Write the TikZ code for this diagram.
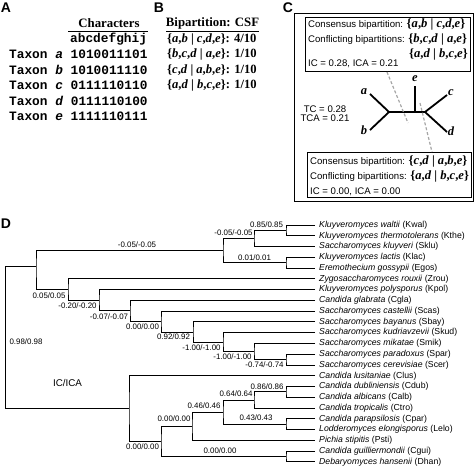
\documentclass[tikz,border=0pt]{standalone}
\usepackage{fontspec}
\setmainfont{Liberation Serif}
\setsansfont{Liberation Sans}
\setmonofont{Liberation Mono}
\usetikzlibrary{calc}
\newcommand{\bip}[2]{\{#1 | #2\}}
\newcommand{\ii}[1]{\textit{#1}}
\newcommand{\cbrf}{\fontsize{12.6}{14}\selectfont\rmfamily\bfseries}
\begin{document}
\begin{tikzpicture}[x=1pt,y=-1pt,
  panel/.style={font=\fontsize{14}{16}\selectfont\sffamily\bfseries, inner sep=0},
  monotxt/.style={font=\fontsize{12.8}{14}\selectfont\ttfamily\bfseries, inner sep=0, anchor=west},
  serhead/.style={font=\fontsize{12.8}{14}\selectfont\rmfamily\bfseries, inner sep=0},
  sertxt/.style={font=\fontsize{12.6}{14}\selectfont\rmfamily\bfseries, inner sep=0, anchor=west},
  ctxt/.style={font=\fontsize{9.6}{11}\selectfont\sffamily, inner sep=0, anchor=west},
  cleaf/.style={font=\fontsize{12.5}{14}\selectfont\rmfamily\bfseries\itshape, inner sep=0},
  ctree/.style={line width=1.8pt},
  dashline/.style={gray!70, line width=1.2pt, dash pattern=on 3pt off 2pt},
  boxline/.style={line width=0.9pt},
  tree/.style={line width=1.0pt, line join=miter},
  sp/.style={font=\fontsize{8.7}{10}\selectfont\sffamily, inner sep=0, anchor=west},
  lbl/.style={font=\fontsize{7.9}{9}\selectfont\sffamily, inner sep=0}]
\useasboundingbox (0,0) rectangle (474,467);

% ---------------- Panel A
\node[panel] (pA) at (6,8) {A};
\node[serhead] (chars) at (109,23) {Characters};
\coordinate (ulA1) at (68,31); \coordinate (ulA2) at (148,31);
\draw[line width=0.8pt] (ulA1) -- (ulA2);
\node[monotxt] (abc) at (70,39.5) {abcdefghij};
\node[monotxt] (ta) at (9,54) {Taxon \textit{a} 1010011101};
\node[monotxt] (tb) at (9,70) {Taxon \textit{b} 1010011110};
\node[monotxt] (tc) at (9,85) {Taxon \textit{c} 0111110110};
\node[monotxt] (td) at (9,101) {Taxon \textit{d} 0111110100};
\node[monotxt] (te) at (9,116) {Taxon \textit{e} 1111110111};

% ---------------- Panel B
\node[panel] (pB) at (159,8) {B};
\node[serhead] (bhead) at (212.5,23) {Bipartition: CSF};
\coordinate (ulB1) at (166,31); \coordinate (ulB2) at (259,31);
\draw[line width=0.8pt] (ulB1) -- (ulB2);
\node[sertxt] (b1) at (167,39.5) {\bip{\ii{a},\ii{b}}{\ii{c},\ii{d},\ii{e}}: 4/10};
\node[sertxt] (b2) at (167,54.5) {\bip{\ii{b},\ii{c},\ii{d}}{\ii{a},\ii{e}}: 1/10};
\node[sertxt] (b3) at (167,70) {\bip{\ii{c},\ii{d}}{\ii{a},\ii{b},\ii{e}}: 1/10};
\node[sertxt] (b4) at (167,85) {\bip{\ii{a},\ii{d}}{\ii{b},\ii{c},\ii{e}}: 1/10};

% ---------------- Panel C
\node[panel] (pC) at (288,8) {C};
\draw[boxline] (294,13) rectangle (473,201);
\draw[boxline] (305,17) rectangle (470,71);
\draw[boxline] (307,152) rectangle (471,197);
\node[ctxt] (c11) at (308,24) {Consensus bipartition: {\cbrf\bip{\ii{a},\ii{b}}{\ii{c},\ii{d},\ii{e}}}};
\node[ctxt] (c12) at (308,39) {Conflicting bipartitions: {\cbrf\bip{\ii{b},\ii{c},\ii{d}}{\ii{a},\ii{e}}}};
\node[ctxt, anchor=east] (c13) at (468,54) {{\cbrf\bip{\ii{a},\ii{d}}{\ii{b},\ii{c},\ii{e}}}};
\node[ctxt] (c14) at (308,64) {IC = 0.28, ICA = 0.21};
\node[ctxt] (c21) at (310,161) {Consensus bipartition: {\cbrf\bip{\ii{c},\ii{d}}{\ii{a},\ii{b},\ii{e}}}};
\node[ctxt] (c22) at (310,176) {Conflicting bipartitions: {\cbrf\bip{\ii{a},\ii{d}}{\ii{b},\ii{c},\ii{e}}}};
\node[ctxt] (c23) at (310,192) {IC = 0.00, ICA = 0.00};
\node[ctxt, anchor=center, align=center] (tc) at (325,113.5) {TC = 0.28\\[-1.5pt]TCA = 0.21};
% small tree
\coordinate (ca) at (370,94);
\coordinate (cb) at (370,130);
\coordinate (cl) at (389,112);
\coordinate (cr) at (425,112);
\coordinate (cej) at (415,112);
\coordinate (ce) at (415,86);
\coordinate (cc) at (447,95);
\coordinate (cd) at (447,132);
\draw[ctree] (ca) -- (cl) -- (cb);
\draw[ctree] (cl) -- (cr);
\draw[ctree] (cc) -- (cr) -- (cd);
\draw[ctree] (cej) -- (ce);
\node[cleaf] (la) at (364,92) {a};
\node[cleaf] (lb) at (364,130) {b};
\node[cleaf] (le) at (415,79) {e};
\node[cleaf] (lc) at (451,93) {c};
\node[cleaf] (ld) at (451,131) {d};
\coordinate (d1a) at (387,72); \coordinate (d1b) at (408,123);
\coordinate (d2a) at (420,103); \coordinate (d2b) at (432,152);
\draw[dashline] (d1a) -- (d1b);
\draw[dashline] (d2a) -- (d2b);

% ---------------- Panel D
\node[panel] (pD) at (6,224) {D};
\foreach [count=\i from 0] \ab/\tx in {
 Kwal/{\ii{Kluyveromyces waltii} (Kwal)},
 Kthe/{\ii{Kluyveromyces thermotolerans} (Kthe)},
 Sklu/{\ii{Saccharomyces kluyveri} (Sklu)},
 Klac/{\ii{Kluyveromyces lactis} (Klac)},
 Egos/{\ii{Eremothecium gossypii} (Egos)},
 Zrou/{\ii{Zygosaccharomyces rouxii} (Zrou)},
 Kpol/{\ii{Kluyveromyces polysporus} (Kpol)},
 Cgla/{\ii{Candida glabrata} (Cgla)},
 Scas/{\ii{Saccharomyces castellii} (Scas)},
 Sbay/{\ii{Saccharomyces bayanus} (Sbay)},
 Skud/{\ii{Saccharomyces kudriavzevii} (Skud)},
 Smik/{\ii{Saccharomyces mikatae} (Smik)},
 Spar/{\ii{Saccharomyces paradoxus} (Spar)},
 Scer/{\ii{Saccharomyces cerevisiae} (Scer)},
 Clus/{\ii{Candida lusitaniae} (Clus)},
 Cdub/{\ii{Candida dubliniensis} (Cdub)},
 Calb/{\ii{Candida albicans} (Calb)},
 Ctro/{\ii{Candida tropicalis} (Ctro)},
 Cpar/{\ii{Candida parapsilosis} (Cpar)},
 Lelo/{\ii{Lodderomyces elongisporus} (Lelo)},
 Psti/{\ii{Pichia stipitis} (Psti)},
 Cgui/{\ii{Candida guilliermondii} (Cgui)},
 Dhan/{\ii{Debaryomyces hansenii} (Dhan)}} {
  \coordinate (L\ab) at (315,{225+10.77*\i});
  \node[sp] (T\ab) at (319,{225+10.77*\i}) {\tx};
}
% internal nodes
\coordinate (nkk) at (286,230.39);
\coordinate (nkks) at (254,238.46);
\coordinate (nle) at (286,262.70);
\coordinate (nA1) at (223,250.58);
\coordinate (nA9) at (286,359.63);
\coordinate (nA8) at (254,351.55);
\coordinate (nA7) at (223,342.12);
\coordinate (nA6) at (193,332.03);
\coordinate (nA5) at (161,321.59);
\coordinate (nA4) at (130,310.99);
\coordinate (nA3) at (99,300.31);
\coordinate (nA2) at (68,289.58);
\coordinate (nA) at (36,266);
\coordinate (nC6) at (286,391.94);
\coordinate (nC4) at (254,400.01);
\coordinate (nC5) at (286,424.25);
\coordinate (nC3) at (223,412.13);
\coordinate (nC2) at (192,426.26);
\coordinate (nC7) at (286,456.56);
\coordinate (nC1) at (161,441.41);
\coordinate (nB) at (129,408.2);
\coordinate (nR) at (5.7,339);
\draw[tree] (LKwal) -| (nkk) |- (LKthe);
\draw[tree] (nkk) -| (nkks) |- (LSklu);
\draw[tree] (LKlac) -| (nle) |- (LEgos);
\draw[tree] (nkks) -| (nA1) |- (nle);
\draw[tree] (LSpar) -| (nA9) |- (LScer);
\draw[tree] (LSmik) -| (nA8) |- (nA9);
\draw[tree] (LSkud) -| (nA7) |- (nA8);
\draw[tree] (LSbay) -| (nA6) |- (nA7);
\draw[tree] (LScas) -| (nA5) |- (nA6);
\draw[tree] (LCgla) -| (nA4) |- (nA5);
\draw[tree] (LKpol) -| (nA3) |- (nA4);
\draw[tree] (LZrou) -| (nA2) |- (nA3);
\draw[tree] (nA1) -| (nA) |- (nA2);
\draw[tree] (LCdub) -| (nC6) |- (LCalb);
\draw[tree] (nC6) -| (nC4) |- (LCtro);
\draw[tree] (LCpar) -| (nC5) |- (LLelo);
\draw[tree] (nC4) -| (nC3) |- (nC5);
\draw[tree] (nC3) -| (nC2) |- (LPsti);
\draw[tree] (LCgui) -| (nC7) |- (LDhan);
\draw[tree] (nC2) -| (nC1) |- (nC7);
\draw[tree] (LClus) -| (nB) |- (nC1);
\draw[tree] (nA) -| (nR) |- (nB);
% labels
\node[lbl] (l1) at (137,245) {-0.05/-0.05};
\node[lbl] (l2) at (266.5,225) {0.85/0.85};
\node[lbl] (l3) at (233.5,233) {-0.05/-0.05};
\node[lbl] (l4) at (254.5,258) {0.01/0.01};
\node[lbl] (l5) at (49,296) {0.05/0.05};
\node[lbl] (l6) at (77.5,306) {-0.20/-0.20};
\node[lbl] (l7) at (109,317) {-0.07/-0.07};
\node[lbl] (l8) at (142.5,327) {0.00/0.00};
\node[lbl] (l9) at (173.5,337) {0.92/0.92};
\node[lbl] (l10) at (201.5,348) {-1.00/-1.00};
\node[lbl] (l11) at (232.5,357) {-1.00/-1.00};
\node[lbl] (l12) at (264.5,365) {-0.74/-0.74};
\node[lbl] (l13) at (26,342) {0.98/0.98};
\node[lbl, font=\fontsize{9.8}{11}\selectfont\sffamily] (l14) at (67.5,383) {IC/ICA};
\node[lbl] (l15) at (267,387) {0.86/0.86};
\node[lbl] (l16) at (236,394) {0.64/0.64};
\node[lbl] (l17) at (204,406) {0.46/0.46};
\node[lbl] (l18) at (174,419) {0.00/0.00};
\node[lbl] (l19) at (256,418) {0.43/0.43};
\node[lbl] (l20) at (142.5,447) {0.00/0.00};
\node[lbl] (l21) at (220,451) {0.00/0.00};
\end{tikzpicture}
\end{document}
